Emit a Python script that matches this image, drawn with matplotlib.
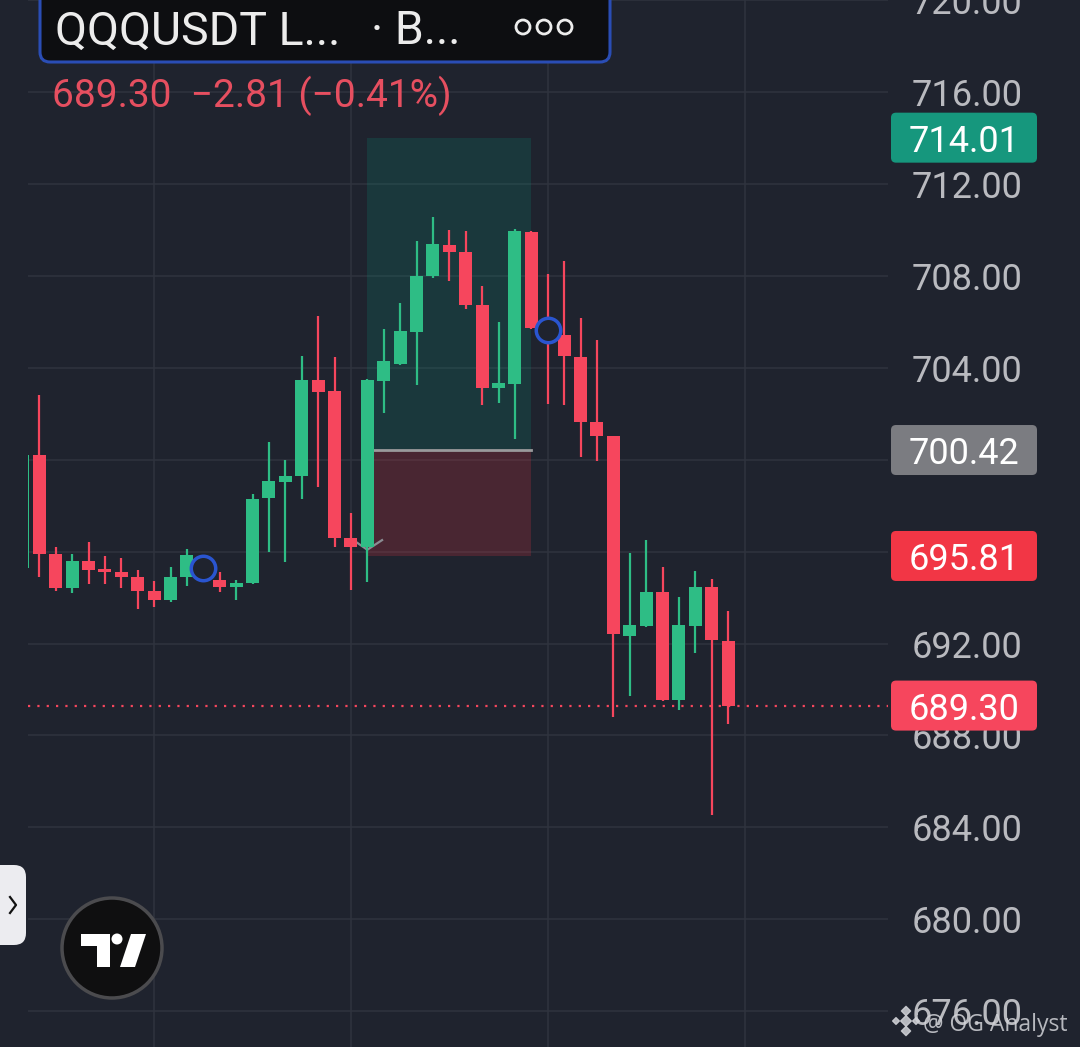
import matplotlib
matplotlib.use('Agg')
import matplotlib.pyplot as plt
from matplotlib.patches import Rectangle, FancyBboxPatch, Circle, Polygon

# --- data ---
opens  = [695.30, 700.20, 695.90, 694.40, 695.60, 695.20, 695.10, 694.90, 694.30, 693.90,
          694.90, 695.70, 694.76, 694.46, 694.65, 698.34, 699.04, 699.28, 703.48, 702.97,
          696.58, 696.20, 703.41, 704.18, 705.55, 707.97, 709.35, 709.05, 706.74, 703.12,
          703.31, 709.92, 705.72, 705.44, 704.46, 701.64, 701.05, 692.31, 692.77, 694.25,
          689.56, 692.77, 694.46, 692.11]
highs  = [700.20, 702.80, 696.20, 695.90, 696.40, 695.80, 695.70, 695.20, 694.70, 695.35,
          696.10, 695.80, 695.10, 694.76, 698.50, 700.76, 699.98, 704.49, 706.23, 704.45,
          697.66, 703.53, 705.68, 706.81, 709.53, 710.57, 710.00, 709.95, 707.56, 706.01,
          710.02, 709.95, 708.07, 708.65, 706.16, 705.22, 701.05, 695.93, 696.50, 695.33,
          694.03, 695.16, 694.80, 693.42]
lows   = [695.30, 694.90, 694.30, 694.20, 694.60, 694.60, 694.40, 693.50, 693.60, 693.80,
          694.50, 694.90, 694.26, 693.90, 694.60, 695.98, 695.56, 698.30, 698.80, 696.20,
          694.32, 694.68, 702.03, 704.13, 703.26, 707.90, 707.78, 706.56, 702.37, 702.47,
          700.88, 705.70, 702.44, 702.39, 700.12, 699.93, 688.79, 689.70, 692.70, 689.50,
          689.12, 691.58, 684.52, 688.50]
closes = [700.20, 695.90, 694.40, 695.60, 695.20, 695.10, 694.90, 694.30, 693.90, 694.90,
          695.85, 695.10, 694.44, 694.65, 698.30, 699.07, 699.28, 703.48, 702.94, 696.58,
          696.20, 703.45, 704.28, 705.58, 708.01, 709.39, 709.02, 706.71, 703.12, 703.34,
          709.95, 705.72, 705.44, 704.49, 701.64, 701.05, 692.41, 692.81, 694.25, 689.56,
          692.80, 694.46, 692.15, 689.30]

entry_price = 700.42
target_price = 714.01
stop_price = 695.81
last_price = 689.30
change = -2.81
change_pct = -0.41
pos_start, pos_end = 21, 31
signal_idx = [11, 32]
signal_price = [695.29, 705.62]
y_ticks = list(range(676, 724, 4))
x_grid = [8, 20, 32, 44]

BG = '#1f232e'
GRID = '#2f333e'
UP = '#2ebd85'
DOWN = '#f6465d'
FONT = ['Roboto', 'DejaVu Sans']

W, H = 1080, 1047
fig = plt.figure(figsize=(W / 100, H / 100), dpi=100)
fig.patch.set_facecolor(BG)

ax = fig.add_axes([28 / W, 0, 860 / W, 1])
ax.set_facecolor(BG)
ax.set_xlim(0.31, 52.75)
ax.set_ylim(674.445, 719.908)
for s in ax.spines.values():
    s.set_visible(False)

ax.set_xticks(x_grid)
ax.set_yticks(y_ticks)
ax.grid(True, color=GRID, linewidth=1.1)
ax.set_axisbelow(True)
ax.tick_params(axis='x', length=0, labelbottom=False)
ax.yaxis.tick_right()
ax.tick_params(axis='y', length=0, pad=17, labelsize=26, labelcolor='#b9babf')
ax.set_yticklabels([f'{v:.2f}' for v in y_ticks], fontfamily=FONT)

# position tool
ax.add_patch(Rectangle((pos_start, entry_price), pos_end - pos_start, target_price - entry_price,
                       facecolor='#089981', alpha=0.18, edgecolor='none', zorder=1))
ax.add_patch(Rectangle((pos_start, stop_price), pos_end - pos_start, entry_price - stop_price,
                       facecolor='#f23645', alpha=0.2, edgecolor='none', zorder=1))
ax.plot([pos_start, pos_end], [entry_price, entry_price], color='#9a9a9c', lw=2, zorder=2)
v0 = opens[pos_start]
ax.plot([pos_start - 0.65, pos_start, pos_start + 0.9], [v0 + 0.2, v0 - 0.12, v0 + 0.3],
        color='#8a8c92', lw=1.6, zorder=2)

# candles
for i, (o, h, l, c) in enumerate(zip(opens, highs, lows, closes)):
    col = UP if c >= o else DOWN
    ax.vlines(i, l, h, color=col, lw=1.6, zorder=3)
    bottom = min(o, c)
    height = max(abs(c - o), 0.13)
    ax.bar(i, height, bottom=bottom, width=0.8, color=col, linewidth=0, zorder=4)

# signal circles
ax.scatter(signal_idx, signal_price, s=310, facecolor=BG, edgecolor='#2a55d0',
           linewidth=2.5, zorder=6)

# last price dotted line
ax.axhline(last_price, color=DOWN, lw=1.6, linestyle=(0, (1, 3.2)), zorder=5)

# --- overlay in pixel coordinates (top-left origin) ---
ov = fig.add_axes([0, 0, 1, 1])
ov.set_xlim(0, W)
ov.set_ylim(H, 0)
ov.axis('off')
ov.patch.set_alpha(0)


def top_px(price):
    return H - ax.transData.transform((0, price))[1]


# price tags on the right scale
tags = [(target_price, '#16977d'), (entry_price, '#7b7c81'),
        (stop_price, '#f23645'), (last_price, '#f6465d')]
for price, col in tags:
    yc = top_px(price)
    ov.add_patch(FancyBboxPatch((891, yc - 25), 146, 50,
                                boxstyle='round,pad=0,rounding_size=5',
                                facecolor=col, edgecolor='none', zorder=5))
    ov.text(964, yc, f'{price:.2f}', color='white', fontsize=26, family=FONT,
            ha='center', va='center_baseline', zorder=6)

# legend box
ov.add_patch(FancyBboxPatch((40, -30), 570, 92, boxstyle='round,pad=0,rounding_size=10',
                            facecolor='#0d0e11', edgecolor='#2a4db5', lw=2.2, zorder=5))
ov.text(55, 27, 'QQQUSDT L...', color='#ececec', fontsize=33.5, family=FONT,
        va='center_baseline', zorder=6)
ov.text(371, 27, '· B...', color='#ececec', fontsize=33.5, family=FONT,
        va='center_baseline', zorder=6)
for cx in [523, 544, 565]:
    ov.add_patch(Circle((cx, 27), 7, facecolor='none', edgecolor='#ececec', lw=2, zorder=6))
ov.text(52, 91, f'{last_price:.2f}  \u2212{abs(change):.2f} (\u2212{abs(change_pct):.2f}%)',
        color='#e64f60', fontsize=28, family=FONT, va='center_baseline', zorder=6)

# side tab
ov.add_patch(FancyBboxPatch((-14, 865), 40, 80, boxstyle='round,pad=0,rounding_size=12',
                            facecolor='#ececf0', edgecolor='none', zorder=5))
ov.plot([10, 16, 10], [897, 905, 913], color='#111111', lw=1.6, zorder=6)

# tradingview logo
ov.add_patch(Circle((112, 948), 50, facecolor='#0f0f10', edgecolor='#4b4b4e', lw=2.5, zorder=5))
ov.add_patch(Polygon([(81, 934), (110, 934), (110, 967), (97, 967), (97, 946), (81, 946)],
                     closed=True, facecolor='white', edgecolor='none', zorder=6))
ov.add_patch(Circle((117, 939), 5.5, facecolor='white', edgecolor='none', zorder=6))
ov.add_patch(Polygon([(131, 934), (146, 934), (135, 967), (120, 967)],
                     closed=True, facecolor='white', edgecolor='none', zorder=6))

# watermark
wm = '#d2d3d8'
ov.scatter([906, 896, 916, 906, 906], [1021, 1021, 1021, 1011, 1031], marker='D', s=[30, 12, 12, 22, 22],
           color=wm, alpha=0.85, zorder=6)
ov.text(923, 1022, '@ OG Analyst', color=wm, alpha=0.85, fontsize=16.5,
        family=['Open Sans', 'DejaVu Sans'], va='center_baseline', zorder=6)

fig.savefig('out.png', dpi=100, facecolor=BG)
